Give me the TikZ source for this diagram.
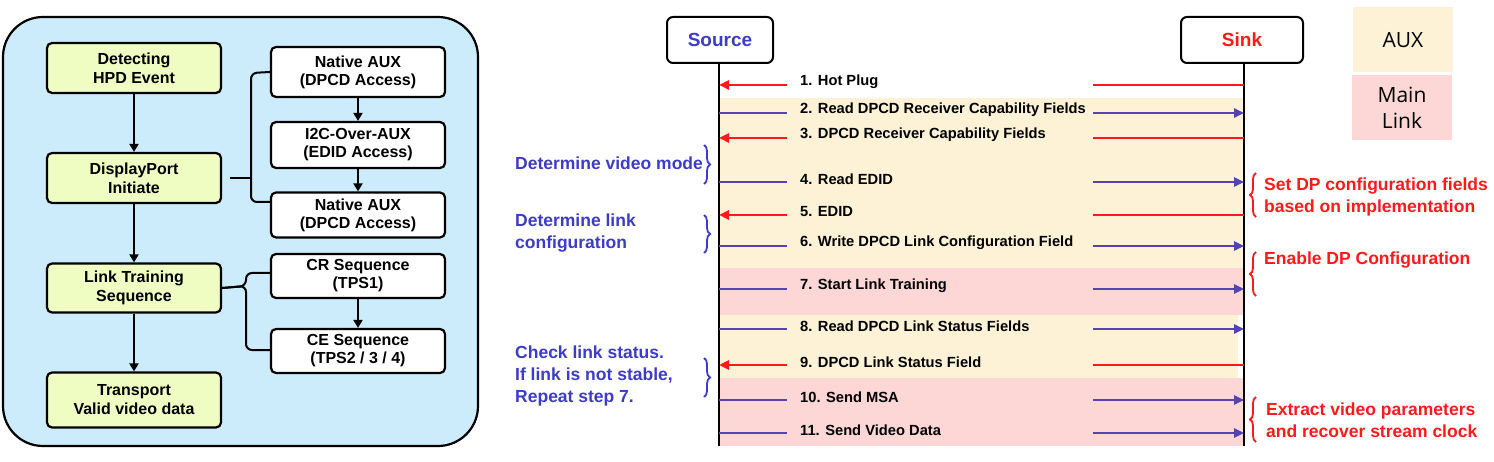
\documentclass[tikz,border=0pt]{standalone}
\usepackage{fontspec}
\setmainfont{Liberation Sans}
\newfontfamily\legfont{Open Sans}
\usetikzlibrary{arrows.meta,decorations.pathreplacing}
\definecolor{panelblue}{HTML}{CCEBFB}
\definecolor{boxgreen}{HTML}{EFFDC3}
\definecolor{auxbg}{HTML}{FDF2D6}
\definecolor{mainbg}{HTML}{FDD6D6}
\definecolor{txtblue}{HTML}{3C3CC8}
\definecolor{arrblue}{HTML}{5544B0}
\definecolor{arrred}{HTML}{FF1A1A}
\tikzset{
 gbox/.style={draw, line width=2.2pt, rounded corners=5pt, fill=boxgreen, minimum width=174pt, align=center, font=\bfseries\fontsize{16}{19}\selectfont, inner sep=1pt},
 wbox/.style={draw, line width=2.2pt, rounded corners=5pt, fill=white, minimum width=174pt, align=center, font=\bfseries\fontsize{16}{18}\selectfont, inner sep=0pt},
 flow/.style={line width=2pt, -{Triangle[length=8pt,width=9pt]}},
 conn/.style={line width=2pt, rounded corners=6pt},
 lab/.style={font=\bfseries\fontsize{14.7}{18}\selectfont, anchor=west, inner sep=0pt},
 bmsg/.style={arrblue, line width=2.4pt},
 rmsg/.style={arrred, line width=2.4pt},
 tipb/.style={-{Triangle[length=10pt,width=9pt]}},
 lifebox/.style={draw, line width=2pt, rounded corners=6pt, fill=white, font=\bfseries\fontsize{19}{22}\selectfont},
 lbrace/.style={txtblue, line width=1.8pt, decorate, decoration={brace, amplitude=6pt}},
 rbrace/.style={arrred, line width=1.8pt, decorate, decoration={brace, amplitude=6pt}},
 note/.style={font=\bfseries\fontsize{17.5}{22}\selectfont, align=left, anchor=west, inner sep=0pt}
}
\begin{document}
\begin{tikzpicture}[x=1pt,y=-1pt]
\useasboundingbox (0,0) rectangle (1494,462);
\fill[white] (0,0) rectangle (1494,462);
% ---- left panel
\draw[line width=2.2pt, fill=panelblue, rounded corners=40pt] (3,17) rectangle (478,446);
\node[gbox, minimum height=50pt] (det) at (134,68) {Detecting\\HPD Event};
\node[gbox, minimum height=50pt] (dpi) at (134,178) {DisplayPort\\Initiate};
\node[gbox, minimum height=49pt] (ltr) at (134,288) {Link Training\\Sequence};
\node[gbox, minimum height=55pt] (trn) at (134,400) {Transport\\Valid video data};
\node[wbox, minimum height=50pt] (na1) at (358,72) {Native AUX\\(DPCD Access)};
\node[wbox, minimum height=46pt] (i2c) at (358,145) {I2C-Over-AUX\\(EDID Access)};
\node[wbox, minimum height=45pt] (na2) at (358,215) {Native AUX\\(DPCD Access)};
\node[wbox, minimum height=44pt] (cr) at (358,276) {CR Sequence\\(TPS1)};
\node[wbox, minimum height=44pt] (ce) at (358,351) {CE Sequence\\(TPS2 / 3 / 4)};
\draw[flow] (det) -- (dpi);
\draw[flow] (dpi) -- (ltr);
\draw[flow] (ltr) -- (trn);
\draw[flow] (na1) -- (i2c);
\draw[flow] (i2c) -- (na2);
\draw[flow] (cr) -- (ce);
\coordinate (dpo) at (230,178);
\draw[line width=2pt] (dpo) -- (251,178);
\draw[conn] (na1.west) -- (251,73) -- (251,202) -- (na2.west |- 0,202);
\draw[conn] (ltr.east) -- (246,286) -- (246,273) -- (cr.west |- 0,273);
\draw[conn] (ltr.east) -- (246,286) -- (246,350) -- (ce.west |- 0,350);
% ---- right panel backgrounds
\fill[auxbg] (718,98) rectangle (1243,268);
\fill[mainbg] (718,268) rectangle (1243,315);
\fill[auxbg] (718,315) rectangle (1238,378);
\fill[mainbg] (718,378) rectangle (1243,446);
\node[lifebox, minimum width=106pt, minimum height=46pt, text=txtblue] (src) at (720,40) {Source};
\node[lifebox, minimum width=122pt, minimum height=46pt, text=arrred] (snk) at (1242,40) {Sink};
\coordinate (srcb) at (719,446);
\coordinate (snkb) at (1244,446);
\draw[line width=2.6pt] (src.south -| srcb) -- (srcb);
\draw[line width=2.6pt] (snk.south -| snkb) -- (snkb);
\foreach \n/\y/\t/\d in {m1/85/1. Hot Plug/r, m2/113/2. Read DPCD Receiver Capability Fields/b, m3/138/3. DPCD Receiver Capability Fields/r, m4/182/4. Read EDID/b, m5/215/5. EDID/r, m6/246/6. Write DPCD Link Configuration Field/b, m7/289/7. Start Link Training/b, m8/329/8. Read DPCD Link Status Fields/b, m9/365/9. DPCD Link Status Field/r, m10/400/10. Send MSA/b, m11/433/11. Send Video Data/b}{
  \coordinate (\n L) at (719,\y);
  \coordinate (\n l) at (787,\y);
  \coordinate (\n r) at (1093,\y);
  \coordinate (\n R) at (1244,\y);
  \node[lab] (\n t) at (800,\y-3) {\t};
  \if\d r
    \draw[rmsg] (\n R) -- (\n r);
    \draw[rmsg, tipb] (\n l) -- (\n L);
  \else
    \draw[bmsg] (\n L) -- (\n l);
    \draw[bmsg, tipb] (\n r) -- (\n R);
  \fi
}
% left notes
\coordinate (b1a) at (704,145); \coordinate (b1b) at (704,184);
\draw[lbrace] (b1a) -- (b1b);
\node[note, text=txtblue] (n1) at (515,163) {Determine video mode};
\coordinate (b2a) at (704,215); \coordinate (b2b) at (704,253);
\draw[lbrace] (b2a) -- (b2b);
\node[note, text=txtblue] (n2) at (515,233) {Determine link\\configuration};
\coordinate (b3a) at (704,358); \coordinate (b3b) at (704,397);
\draw[lbrace] (b3a) -- (b3b);
\node[note, text=txtblue] (n3) at (515,376) {Check link status.\\If link is not stable,\\Repeat step 7.};
% right notes
\coordinate (c1a) at (1256,217); \coordinate (c1b) at (1256,173);
\draw[rbrace] (c1a) -- (c1b);
\node[note, text=arrred] (r1) at (1264,197) {Set DP configuration fields\\based on implementation};
\coordinate (c2a) at (1256,296); \coordinate (c2b) at (1256,252);
\draw[rbrace] (c2a) -- (c2b);
\node[note, text=arrred] (r2) at (1264,260) {Enable DP Configuration};
\coordinate (c3a) at (1256,442); \coordinate (c3b) at (1256,397);
\draw[rbrace] (c3a) -- (c3b);
\node[note, text=arrred] (r3) at (1266,420) {Extract video parameters\\and recover stream clock};
% legend
\node[fill=auxbg, minimum width=100pt, minimum height=65pt, font=\legfont\fontsize{21}{26}\selectfont] (laux) at (1403,40) {AUX};
\node[fill=mainbg, minimum width=100pt, minimum height=65pt, align=center, font=\legfont\fontsize{21}{26}\selectfont] (lmain) at (1402,108) {Main\\Link};
\end{tikzpicture}
\end{document}
